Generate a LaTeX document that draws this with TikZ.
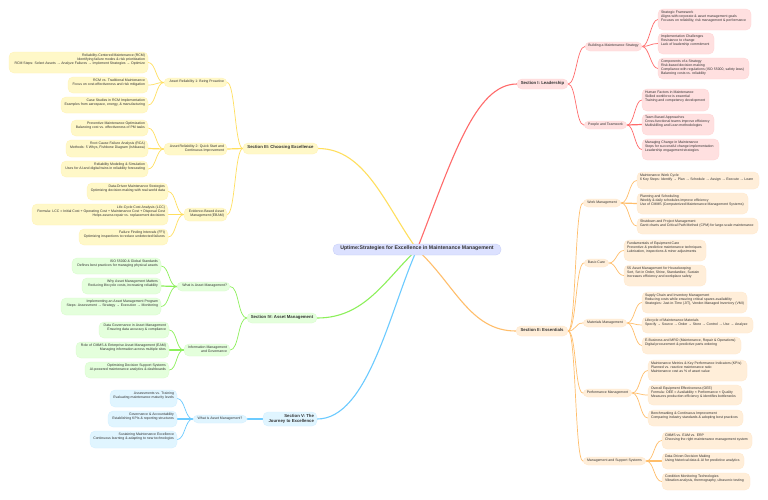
\documentclass[tikz,border=0pt]{standalone}
\usepackage{fontspec}
\setmainfont{Liberation Sans}
\usetikzlibrary{backgrounds}
\definecolor{ink}{HTML}{333333}
\definecolor{rF}{HTML}{FFE0E0}\definecolor{rD}{HTML}{FFD4D4}\definecolor{rL}{HTML}{FF6B6B}
\definecolor{oF}{HTML}{FFEED9}\definecolor{oD}{HTML}{FFE8CC}\definecolor{oL}{HTML}{FFBE6B}
\definecolor{yF}{HTML}{FFF8C8}\definecolor{yD}{HTML}{FFF3B4}\definecolor{yL}{HTML}{FFDF5E}
\definecolor{gF}{HTML}{E4FFDC}\definecolor{gD}{HTML}{D8FBCC}\definecolor{gL}{HTML}{8CF05A}
\definecolor{bF}{HTML}{E0F5FF}\definecolor{bD}{HTML}{D2F0FF}\definecolor{bL}{HTML}{6CCBFF}
\definecolor{mF}{HTML}{DCE1FF}\definecolor{mD}{HTML}{C4CCF7}
\tikzset{
  x=1pt,y=-1pt,
  box/.style={rectangle,rounded corners=5pt,line width=.3pt,text=ink,inner sep=0pt,font=\fontsize{3.5}{4}\selectfont},
  redb/.style={box,fill=rF,draw=rD},
  orab/.style={box,fill=oF,draw=oD},
  yelb/.style={box,fill=yF,draw=yD},
  greb/.style={box,fill=gF,draw=gD},
  blub/.style={box,fill=bF,draw=bD},
  secb/.style={font=\bfseries\fontsize{4.3}{5.2}\selectfont},
  rootb/.style={box,fill=mF,draw=mD,font=\bfseries\fontsize{5.2}{6}\selectfont,rounded corners=5pt},
  redl/.style={draw=rL,line width=.7pt,line cap=round},
  oral/.style={draw=oL,line width=.7pt,line cap=round},
  yell/.style={draw=yL,line width=.7pt,line cap=round},
  grel/.style={draw=gL,line width=.7pt,line cap=round},
  blul/.style={draw=bL,line width=.7pt,line cap=round},
  heavy/.style={line width=1.2pt}
}
% style, name, x0, y0, x1, y1, alignment, top pad, text
\newcommand\bx[9]{%
  \pgfmathsetmacro\bxw{#5-#3-6}\pgfmathsetmacro\bxh{#6-#4}%
  \pgfmathsetmacro\bxcx{(#3+#5)/2}\pgfmathsetmacro\bxcy{(#4+#6)/2}%
  \node[#1,inner xsep=3pt] (#2) at (\bxcx,\bxcy)
    {\parbox[c][\bxh pt][t]{\bxw pt}{\vspace*{#8pt}#7\rule{0pt}{2.8pt}#9}};}
\newcommand\lft[6]{\bx{#1}{#2}{#3}{#4}{#5}{#6}{\raggedleft}{1.9}}
\newcommand\rgt[6]{\bx{#1}{#2}{#3}{#4}{#5}{#6}{\raggedright}{1.9}}
\newcommand\lnk[4]{\draw[#1] (#2) .. controls +(#4,0) and +(-#4,0) .. (#3);}
\newcommand\lnl[4]{\draw[#1] (#2) .. controls +(-#4,0) and +(#4,0) .. (#3);}
\begin{document}
\begin{tikzpicture}
\useasboundingbox (0,0) rectangle (768,499);
% root
\bx{rootb}{root}{333}{244}{501}{255}{\centering}{2.2}{Uptime:Strategies for Excellence in Maintenance Management}
% Section I
\bx{redb,secb}{s1}{517}{79}{568}{89}{\centering}{2.6}{Section I: Leadership}
\bx{redb}{s1a}{585}{42}{642}{51}{\centering}{1.9}{Building a Maintenance Strategy}
\bx{redb}{s1b}{584}{121}{627}{129}{\centering}{1.4}{People and Teamwork}
\rgt{redb}{l1}{658}{9}{751}{30}{Strategic Framework\\Aligns with corporate \& asset management goals\\Focuses on reliability, risk management \& performance}
\rgt{redb}{l2}{658}{33}{714}{54}{Implementation Challenges\\Resistance to change\\Lack of leadership commitment}
\rgt{redb}{l3}{658}{58}{749}{79}{Components of a Strategy\\Risk-based decision-making\\Compliance with regulations (ISO 55000, safety laws)\\Balancing costs vs. reliability}
\rgt{redb}{l4}{642}{89}{709}{111}{Human Factors in Maintenance\\Skilled workforce is essential\\Training and competency development}
\rgt{redb}{l5}{642}{114}{714}{135}{Team-Based Approaches\\Cross-functional teams improve efficiency\\Multiskilling and Lean methodologies}
\rgt{redb}{l6}{642}{139}{719}{160}{Managing Change in Maintenance\\Steps for successful change implementation\\Leadership engagement strategies}
% Section II
\bx{orab,secb}{s2}{516}{326}{568}{336}{\centering}{2.6}{Section II: Essentials}
\bx{orab}{s2a}{583}{199}{621}{207}{\centering}{1.4}{Work Management}
\bx{orab}{s2b}{584}{259}{609}{267}{\centering}{1.4}{Basic Care}
\bx{orab}{s2c}{583}{319}{627}{327}{\centering}{1.4}{Materials Management}
\bx{orab}{s2d}{583}{389}{632}{397}{\centering}{1.4}{Performance Management}
\bx{orab}{s2e}{583}{457}{646}{465}{\centering}{1.4}{Management and Support Systems}
\rgt{orab}{o1}{637}{172}{759}{189}{Maintenance Work Cycle\\6 Key Steps: Identify → Plan → Schedule → Assign → Execute → Learn}
\rgt{orab}{o2}{637}{193}{748}{214}{Planning and Scheduling\\Weekly \& daily schedules improve efficiency\\Use of CMMS (Computerized Maintenance Management Systems)}
\rgt{orab}{o3}{637}{218}{758}{234}{Shutdown and Project Management\\Gantt charts and Critical Path Method (CPM) for large-scale maintenance}
\rgt{orab}{o4}{624}{240}{706}{261}{Fundamentals of Equipment Care\\Preventive \& predictive maintenance techniques\\Lubrication, inspections \& minor adjustments}
\rgt{orab}{o5}{624}{265}{706}{286}{5S Asset Management for Housekeeping\\Sort, Set in Order, Shine, Standardize, Sustain\\Increases efficiency and workplace safety}
\rgt{orab}{o6}{642}{292}{747}{313}{Supply Chain and Inventory Management\\Reducing costs while ensuring critical spares availability\\Strategies: Just-in-Time (JIT), Vendor-Managed Inventory (VMI)}
\rgt{orab}{o7}{642}{317}{753}{333}{Lifecycle of Maintenance Materials\\Specify → Source → Order → Store → Control → Use → Analyze}
\rgt{orab}{o8}{642}{337}{741}{354}{E-Business and MRO (Maintenance, Repair \& Operations)\\Digital procurement \& predictive parts ordering}
\rgt{orab}{o9}{648}{360}{747}{381}{Maintenance Metrics \& Key Performance Indicators (KPIs)\\Planned vs. reactive maintenance ratio\\Maintenance cost as \% of asset value}
\rgt{orab}{o10}{648}{385}{742}{405}{Overall Equipment Effectiveness (OEE)\\Formula: OEE = Availability × Performance × Quality\\Measures production efficiency \& identifies bottlenecks}
\rgt{orab}{o11}{648}{410}{743}{426}{Benchmarking \& Continuous Improvement\\Comparing industry standards \& adopting best practices}
\rgt{orab}{o12}{662}{432}{752}{449}{CMMS vs. EAM vs. ERP\\Choosing the right maintenance management system}
\rgt{orab}{o13}{662}{453}{744}{469}{Data-Driven Decision Making\\Using historical data \& AI for predictive analytics}
\rgt{orab}{o14}{662}{473}{750}{490}{Condition Monitoring Technologies\\Vibration analysis, thermography, ultrasonic testing}
% Section III
\bx{yelb,secb}{s3}{243}{143}{318}{154}{\centering}{2.8}{Section III: Choosing Excellence}
\bx{yelb}{s3a}{164}{78}{227}{87}{\raggedleft}{1.6}{Asset Reliability 1: Being Proactive}
\bx{yelb}{s3b}{164}{143}{227}{155}{\raggedleft}{1.6}{Asset Reliability 2: Quick Start and\\Continuous Improvement}
\bx{yelb}{s3c}{184}{208}{227}{221}{\raggedleft}{1.9}{Evidence-Based Asset\\Management (EBAM)}
\lft{yelb}{y1}{9}{52}{148}{73}{Reliability-Centered Maintenance (RCM)\\Identifying failure modes \& risk prioritization\\RCM Steps: Select Assets → Analyze Failures → Implement Strategies → Optimize}
\lft{yelb}{y2}{68}{77}{148}{93}{RCM vs. Traditional Maintenance\\Focus on cost-effectiveness and risk mitigation}
\lft{yelb}{y3}{61}{97}{148}{113}{Case Studies in RCM Implementation\\Examples from aerospace, energy, \& manufacturing}
\lft{yelb}{y4}{71}{120}{148}{136}{Preventive Maintenance Optimization\\Balancing cost vs. effectiveness of PM tasks}
\lft{yelb}{y5}{66}{140}{148}{157}{Root Cause Failure Analysis (RCA)\\Methods: 5 Whys, Fishbone Diagram (Ishikawa)}
\lft{yelb}{y6}{61}{161}{148}{177}{Reliability Modeling \& Simulation\\Uses for AI and digital twins in reliability forecasting}
\lft{yelb}{y7}{87}{183}{168}{200}{Data-Driven Maintenance Strategies\\Optimizing decision-making with real-world data}
\lft{yelb}{y8}{32}{204}{168}{225}{Life-Cycle Cost Analysis (LCC)\\Formula: LCC = Initial Cost + Operating Cost + Maintenance Cost + Disposal Cost\\Helps assess repair vs. replacement decisions}
\lft{yelb}{y9}{79}{229}{168}{245}{Failure Finding Intervals (FFI)\\Optimizing inspections to reduce undetected failures}
% Section IV
\bx{greb,secb}{s4}{247}{313}{317}{323}{\centering}{2.6}{Section IV: Asset Management}
\bx{greb}{s4a}{177}{282}{230}{291}{\raggedleft}{1.9}{What is Asset Management?}
\bx{greb}{s4b}{184}{344}{230}{356}{\raggedleft}{1.6}{Information Management\\and Governance}
\lft{greb}{g1}{72}{258}{161}{274}{ISO 55000 \& Global Standards\\Defines best practices for managing physical assets}
\lft{greb}{g2}{82}{278}{161}{294}{Why Asset Management Matters\\Reducing lifecycle costs, increasing reliability}
\lft{greb}{g3}{61}{298}{161}{315}{Implementing an Asset Management Program\\Steps: Assessment → Strategy → Execution → Monitoring}
\lft{greb}{g4}{99}{322}{169}{338}{Data Governance in Asset Management\\Ensuring data accuracy \& compliance}
\lft{greb}{g5}{76}{342}{169}{358}{Role of CMMS \& Enterprise Asset Management (EAM)\\Managing information across multiple sites}
\lft{greb}{g6}{85}{362}{169}{378}{Optimizing Decision Support Systems\\AI-powered maintenance analytics \& dashboards}
% Section V
\bx{blub,secb}{s5}{263}{412}{317}{426}{\raggedleft}{1.9}{Section V: The\\Journey to Excellence}
\bx{blub}{s5a}{193}{415}{247}{423}{\centering}{1.4}{What is Asset Management?}
\lft{blub}{b1}{110}{390}{177}{407}{Assessments vs. Training\\Evaluating maintenance maturity levels}
\lft{blub}{b2}{108}{411}{177}{427}{Governance \& Accountability\\Establishing KPIs \& reporting structures}
\lft{blub}{b3}{90}{431}{177}{448}{Sustaining Maintenance Excellence\\Continuous learning \& adapting to new technologies}
% connectors
\begin{scope}[on background layer]
\fill[white] (0,0) rectangle (768,499);
\draw[redl,line width=1.1pt] (root.center) .. controls +(35,-90) and +(-42,0) .. (s1.west);
\draw[oral,line width=1.1pt] (root.center) .. controls +(38,35) and +(-46,0) .. (s2.west);
\draw[yell,line width=1.1pt] (root.center) .. controls +(-32,-45) and +(47,0) .. (s3.east);
\draw[grel,line width=1.1pt] (root.center) .. controls +(-32,30) and +(48,0) .. (s4.east);
\draw[blul,line width=1.1pt] (root.center) .. controls +(-27,60) and +(51,0) .. (s5.east);
\lnk{redl}{s1.east}{s1a.west}{8}\lnk{redl}{s1.east}{s1b.west}{8}
\lnk{redl}{s1a.east}{l1.west}{7}\lnk{redl}{s1a.east}{l2.west}{7}\lnk{redl}{s1a.east}{l3.west}{7}
\lnk{redl}{s1b.east}{l4.west}{7}\lnk{redl,heavy}{s1b.east}{l5.west}{7}\lnk{redl}{s1b.east}{l6.west}{7}
\lnk{oral}{s2.east}{s2a.west}{8}\lnk{oral}{s2.east}{s2b.west}{8}\lnk{oral}{s2.east}{s2c.west}{8}\lnk{oral}{s2.east}{s2d.west}{8}\lnk{oral}{s2.east}{s2e.west}{8}
\lnk{oral}{s2a.east}{o1.west}{8}\lnk{oral,heavy}{s2a.east}{o2.west}{8}\lnk{oral}{s2a.east}{o3.west}{8}
\lnk{oral}{s2b.east}{o4.west}{7}\lnk{oral}{s2b.east}{o5.west}{7}
\lnk{oral}{s2c.east}{o6.west}{7}\lnk{oral}{s2c.east}{o7.west}{7}\lnk{oral}{s2c.east}{o8.west}{7}
\lnk{oral}{s2d.east}{o9.west}{8}\lnk{oral}{s2d.east}{o10.west}{8}\lnk{oral}{s2d.east}{o11.west}{8}
\lnk{oral}{s2e.east}{o12.west}{8}\lnk{oral,heavy}{s2e.east}{o13.west}{8}\lnk{oral}{s2e.east}{o14.west}{8}
\lnl{yell}{s3.west}{s3a.east}{8}\lnl{yell,heavy}{s3.west}{s3b.east}{8}\lnl{yell}{s3.west}{s3c.east}{8}
\lnl{yell}{s3a.west}{y1.east}{8}\lnl{yell}{s3a.west}{y2.east}{8}\lnl{yell}{s3a.west}{y3.east}{8}
\lnl{yell}{s3b.west}{y4.east}{8}\lnl{yell,heavy}{s3b.west}{y5.east}{8}\lnl{yell}{s3b.west}{y6.east}{8}
\lnl{yell}{s3c.west}{y7.east}{8}\lnl{yell,heavy}{s3c.west}{y8.east}{8}\lnl{yell}{s3c.west}{y9.east}{8}
\lnl{grel}{s4.west}{s4a.east}{9}\lnl{grel}{s4.west}{s4b.east}{9}
\lnl{grel}{s4a.west}{g1.east}{8}\lnl{grel,heavy}{s4a.west}{g2.east}{8}\lnl{grel}{s4a.west}{g3.east}{8}
\lnl{grel}{s4b.west}{g4.east}{8}\lnl{grel,heavy}{s4b.west}{g5.east}{8}\lnl{grel}{s4b.west}{g6.east}{8}
\lnl{blul,heavy}{s5.west}{s5a.east}{8}
\lnl{blul}{s5a.west}{b1.east}{8}\lnl{blul,heavy}{s5a.west}{b2.east}{8}\lnl{blul}{s5a.west}{b3.east}{8}
\end{scope}
\end{tikzpicture}
\end{document}
